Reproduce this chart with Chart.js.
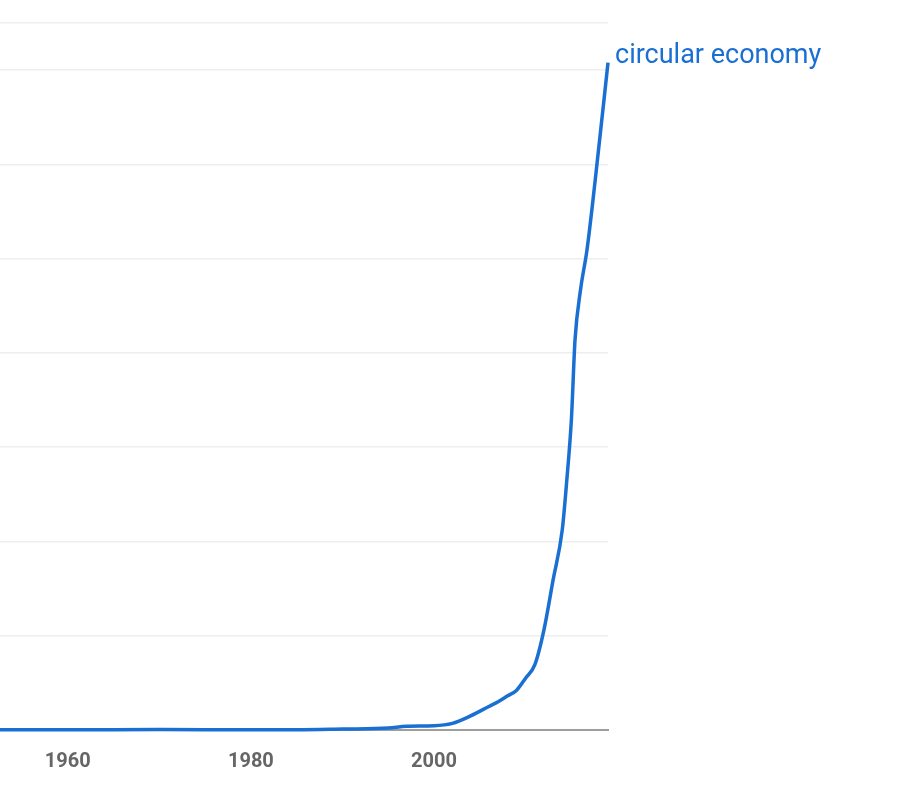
<!DOCTYPE html>
<html>
<head>
<meta charset="utf-8">
<style>
  html, body { margin: 0; padding: 0; background: #fff; }
  canvas { display: block; }
</style>
<script src="https://cdn.jsdelivr.net/npm/chart.js@4/dist/chart.umd.min.js"></script>
</head>
<body>
<canvas id="canvas" width="920" height="788"></canvas>
<script>
// Ngram-style frequency, in gridline units
const years = [1952, 1960, 1970, 1980, 1985, 1990, 1995, 1997, 2000, 2002, 2004, 2006, 2007, 2008, 2009, 2010, 2011, 2012, 2013, 2014, 2014.5, 2015, 2015.4, 2016, 2016.7, 2017.6, 2019];
const values = [0.002, 0.002, 0.004, 0.003, 0.003, 0.01, 0.02, 0.04, 0.045, 0.07, 0.15, 0.25, 0.3, 0.36, 0.42, 0.55, 0.69, 1.06, 1.59, 2.12, 2.65, 3.29, 4.14, 4.67, 5.09, 5.83, 7.08];
const seriesLabel = "circular economy";
const xTicks = [1960, 1980, 2000];

const lineColor = "#1a6fd2";

const endLabel = {
  id: "endLabel",
  afterDatasetsDraw(chart) {
    const meta = chart.getDatasetMeta(0);
    const last = meta.data[meta.data.length - 1];
    const ctx = chart.ctx;
    ctx.save();
    ctx.font = "27px Roboto";
    ctx.fillStyle = lineColor;
    ctx.textBaseline = "middle";
    ctx.fillText(seriesLabel, last.x + 7, last.y - 6);
    ctx.restore();
  }
};

new Chart(document.getElementById("canvas").getContext("2d"), {
  type: "line",
  data: {
    datasets: [{
      label: seriesLabel,
      data: years.map((y, i) => ({ x: y, y: values[i] })),
      borderColor: lineColor,
      borderWidth: 3.5,
      pointRadius: 0,
      tension: 0.4,
      cubicInterpolationMode: "monotone",
      fill: false,
      clip: false
    }]
  },
  options: {
    responsive: false,
    animation: false,
    layout: { padding: { top: 23, right: 312, left: 0, bottom: 0 } },
    plugins: { legend: { display: false }, tooltip: { enabled: false } },
    scales: {
      x: {
        type: "linear",
        min: 1952.6,
        max: 2019,
        afterFit(scale) { scale.height = 58; },
        afterBuildTicks(scale) { scale.ticks = xTicks.map(v => ({ value: v })); },
        grid: { display: false },
        border: { color: "#9e9e9e", width: 2 },
        ticks: {
          padding: 12,
          color: "#666",
          font: { family: "Roboto", size: 20, weight: "bold" },
          callback: v => String(v)
        }
      },
      y: {
        min: 0,
        max: 7.5,
        display: true,
        afterFit(scale) { scale.width = 0; },
        ticks: { display: false, stepSize: 1 },
        grid: { color: "#eeeeee", lineWidth: 1.5, drawTicks: false },
        border: { display: false }
      }
    }
  },
  plugins: [endLabel]
});
</script>
</body>
</html>
